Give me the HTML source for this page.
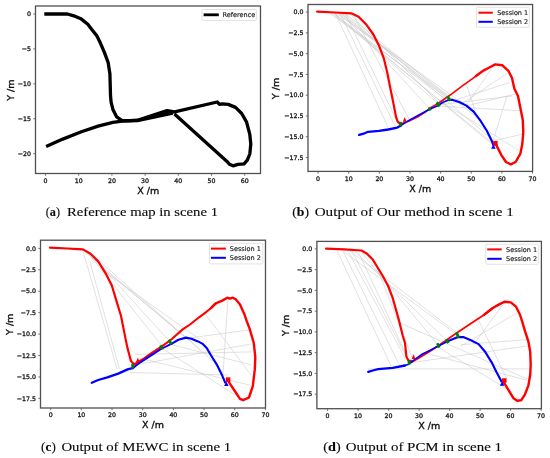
<!DOCTYPE html>
<html><head><meta charset="utf-8"><style>
html,body{margin:0;padding:0;background:#fff;}
svg{display:block;}
.tk{font-family:"DejaVu Sans",sans-serif;font-size:6.25px;fill:#1a1a1a;stroke:#1a1a1a;stroke-width:0.32px;}
.lb{font-family:"DejaVu Sans",sans-serif;font-size:9.5px;fill:#111;stroke:#111;stroke-width:0.35px;}
.lg{font-family:"DejaVu Sans",sans-serif;font-size:6.5px;fill:#1a1a1a;stroke:#1a1a1a;stroke-width:0.15px;}
.cp{font-family:"Liberation Serif",serif;font-size:13.5px;fill:#0a0a0a;stroke:#0a0a0a;stroke-width:0.12px;}
</style></head><body>
<svg width="550" height="458" viewBox="0 0 550 458">
<line x1="45.5" y1="173.5" x2="45.5" y2="175.7" stroke="#505050" stroke-width="0.8"/>
<text x="45.5" y="182.9" text-anchor="middle" class="tk">0</text>
<line x1="78.7" y1="173.5" x2="78.7" y2="175.7" stroke="#505050" stroke-width="0.8"/>
<text x="78.7" y="182.9" text-anchor="middle" class="tk">10</text>
<line x1="111.9" y1="173.5" x2="111.9" y2="175.7" stroke="#505050" stroke-width="0.8"/>
<text x="111.9" y="182.9" text-anchor="middle" class="tk">20</text>
<line x1="145.1" y1="173.5" x2="145.1" y2="175.7" stroke="#505050" stroke-width="0.8"/>
<text x="145.1" y="182.9" text-anchor="middle" class="tk">30</text>
<line x1="178.3" y1="173.5" x2="178.3" y2="175.7" stroke="#505050" stroke-width="0.8"/>
<text x="178.3" y="182.9" text-anchor="middle" class="tk">40</text>
<line x1="211.5" y1="173.5" x2="211.5" y2="175.7" stroke="#505050" stroke-width="0.8"/>
<text x="211.5" y="182.9" text-anchor="middle" class="tk">50</text>
<line x1="244.7" y1="173.5" x2="244.7" y2="175.7" stroke="#505050" stroke-width="0.8"/>
<text x="244.7" y="182.9" text-anchor="middle" class="tk">60</text>
<line x1="33.3" y1="14" x2="35.5" y2="14" stroke="#505050" stroke-width="0.8"/>
<text x="30.9" y="16.2" text-anchor="end" class="tk">0</text>
<line x1="33.3" y1="48.93" x2="35.5" y2="48.93" stroke="#505050" stroke-width="0.8"/>
<text x="30.9" y="51.13" text-anchor="end" class="tk">−5</text>
<line x1="33.3" y1="83.85" x2="35.5" y2="83.85" stroke="#505050" stroke-width="0.8"/>
<text x="30.9" y="86.05" text-anchor="end" class="tk">−10</text>
<line x1="33.3" y1="118.78" x2="35.5" y2="118.78" stroke="#505050" stroke-width="0.8"/>
<text x="30.9" y="120.98" text-anchor="end" class="tk">−15</text>
<line x1="33.3" y1="153.7" x2="35.5" y2="153.7" stroke="#505050" stroke-width="0.8"/>
<text x="30.9" y="155.9" text-anchor="end" class="tk">−20</text>
<text x="148.2" y="193.5" text-anchor="middle" class="lb">X /m</text>
<text transform="translate(14.2,90.2) rotate(-90)" text-anchor="middle" class="lb">Y /m</text>
<polyline points="44.3,14 67.4,14 73.8,15.8 81.4,19.1 87.8,24.2 91.6,29.3 96.7,35.6 100.5,43.3 104.3,52.2 108.1,62.3 109.9,73.8 110.2,84.3 110.5,95.3 111.1,102.1 112.9,109.4 116.6,116.8 122.2,120.6 130,120.6 137.4,120.2 167.1,110.6 174.5,111.8 217.2,102 219.5,104.4 222,103.9 228.2,104.4 235.5,107.4 241.7,113.5 246.6,122.1 249.8,134.4 250.8,144.2 249.8,154 247.3,160.2 244.1,163.8 238,164.3 233.1,165.8 229.4,164.3 227,161.4 174.5,114.1" fill="none" stroke="#000" stroke-width="3.3" stroke-linejoin="round"/>
<polyline points="46.1,146.5 62.8,139.1 81.4,131.7 98.1,126.1 112.9,122.4 122.2,121.1 137.4,120.6 172.7,113.1" fill="none" stroke="#000" stroke-width="3.3" stroke-linejoin="round"/>
<polygon points="137.4,119.3 168,109.7 174.5,110.9 174.5,113.2 137.4,121.5" fill="#000"/>
<rect x="35.5" y="6" width="225" height="167.5" fill="none" stroke="#505050" stroke-width="1.3"/>
<rect x="202" y="9.5" width="54.4" height="10.9" rx="1.2" fill="#fff" stroke="#d6d6d6" stroke-width="0.7"/>
<line x1="203.6" y1="14.8" x2="218.8" y2="14.8" stroke="#000" stroke-width="2.8"/>
<text x="222.5" y="17.0" class="lg">Reference</text>
<line x1="318.1" y1="171.4" x2="318.1" y2="173.6" stroke="#505050" stroke-width="0.8"/>
<text x="318.1" y="180.8" text-anchor="middle" class="tk">0</text>
<line x1="348.73" y1="171.4" x2="348.73" y2="173.6" stroke="#505050" stroke-width="0.8"/>
<text x="348.73" y="180.8" text-anchor="middle" class="tk">10</text>
<line x1="379.36" y1="171.4" x2="379.36" y2="173.6" stroke="#505050" stroke-width="0.8"/>
<text x="379.36" y="180.8" text-anchor="middle" class="tk">20</text>
<line x1="409.99" y1="171.4" x2="409.99" y2="173.6" stroke="#505050" stroke-width="0.8"/>
<text x="409.99" y="180.8" text-anchor="middle" class="tk">30</text>
<line x1="440.62" y1="171.4" x2="440.62" y2="173.6" stroke="#505050" stroke-width="0.8"/>
<text x="440.62" y="180.8" text-anchor="middle" class="tk">40</text>
<line x1="471.25" y1="171.4" x2="471.25" y2="173.6" stroke="#505050" stroke-width="0.8"/>
<text x="471.25" y="180.8" text-anchor="middle" class="tk">50</text>
<line x1="501.88" y1="171.4" x2="501.88" y2="173.6" stroke="#505050" stroke-width="0.8"/>
<text x="501.88" y="180.8" text-anchor="middle" class="tk">60</text>
<line x1="532.51" y1="171.4" x2="532.51" y2="173.6" stroke="#505050" stroke-width="0.8"/>
<text x="532.51" y="180.8" text-anchor="middle" class="tk">70</text>
<line x1="305.8" y1="12.1" x2="308" y2="12.1" stroke="#505050" stroke-width="0.8"/>
<text x="303.4" y="14.3" text-anchor="end" class="tk">0.0</text>
<line x1="305.8" y1="32.88" x2="308" y2="32.88" stroke="#505050" stroke-width="0.8"/>
<text x="303.4" y="35.08" text-anchor="end" class="tk">−2.5</text>
<line x1="305.8" y1="53.65" x2="308" y2="53.65" stroke="#505050" stroke-width="0.8"/>
<text x="303.4" y="55.85" text-anchor="end" class="tk">−5.0</text>
<line x1="305.8" y1="74.42" x2="308" y2="74.42" stroke="#505050" stroke-width="0.8"/>
<text x="303.4" y="76.62" text-anchor="end" class="tk">−7.5</text>
<line x1="305.8" y1="95.2" x2="308" y2="95.2" stroke="#505050" stroke-width="0.8"/>
<text x="303.4" y="97.4" text-anchor="end" class="tk">−10.0</text>
<line x1="305.8" y1="115.97" x2="308" y2="115.97" stroke="#505050" stroke-width="0.8"/>
<text x="303.4" y="118.17" text-anchor="end" class="tk">−12.5</text>
<line x1="305.8" y1="136.75" x2="308" y2="136.75" stroke="#505050" stroke-width="0.8"/>
<text x="303.4" y="138.95" text-anchor="end" class="tk">−15.0</text>
<line x1="305.8" y1="157.53" x2="308" y2="157.53" stroke="#505050" stroke-width="0.8"/>
<text x="303.4" y="159.72" text-anchor="end" class="tk">−17.5</text>
<text x="420.3" y="191.5" text-anchor="middle" class="lb">X /m</text>
<text transform="translate(279.1,88.5) rotate(-90)" text-anchor="middle" class="lb">Y /m</text>
<line x1="335" y1="12.4" x2="388" y2="127" stroke="#c8c8c8" stroke-width="0.55"/>
<line x1="345.4" y1="13.8" x2="398.5" y2="124.5" stroke="#c8c8c8" stroke-width="0.55"/>
<line x1="340" y1="13" x2="395" y2="126" stroke="#c8c8c8" stroke-width="0.55"/>
<line x1="353" y1="14" x2="409" y2="119" stroke="#c8c8c8" stroke-width="0.55"/>
<line x1="342" y1="13.5" x2="430" y2="109" stroke="#c8c8c8" stroke-width="0.55"/>
<line x1="334.5" y1="13.8" x2="438.6" y2="104" stroke="#c8c8c8" stroke-width="0.55"/>
<line x1="350" y1="14" x2="440" y2="104" stroke="#c8c8c8" stroke-width="0.55"/>
<line x1="330" y1="13.5" x2="449" y2="99" stroke="#c8c8c8" stroke-width="0.55"/>
<line x1="334" y1="13.5" x2="447" y2="100.5" stroke="#c8c8c8" stroke-width="0.55"/>
<line x1="338" y1="13.5" x2="451" y2="99.5" stroke="#c8c8c8" stroke-width="0.55"/>
<line x1="342" y1="13.8" x2="450" y2="101" stroke="#c8c8c8" stroke-width="0.55"/>
<line x1="346" y1="14" x2="452" y2="100" stroke="#c8c8c8" stroke-width="0.55"/>
<line x1="336" y1="13" x2="475" y2="112" stroke="#c8c8c8" stroke-width="0.55"/>
<line x1="340" y1="13.5" x2="478" y2="118" stroke="#c8c8c8" stroke-width="0.55"/>
<line x1="331" y1="12.5" x2="492.5" y2="143" stroke="#c8c8c8" stroke-width="0.55"/>
<line x1="334" y1="13" x2="493" y2="145" stroke="#c8c8c8" stroke-width="0.55"/>
<line x1="344" y1="13.5" x2="488" y2="136" stroke="#c8c8c8" stroke-width="0.55"/>
<line x1="491.8" y1="68.2" x2="466" y2="105.5" stroke="#c8c8c8" stroke-width="0.55"/>
<line x1="506.8" y1="73.6" x2="462" y2="103.6" stroke="#c8c8c8" stroke-width="0.55"/>
<line x1="509.6" y1="82.5" x2="455" y2="100.2" stroke="#c8c8c8" stroke-width="0.55"/>
<line x1="515" y1="94.1" x2="467" y2="105.8" stroke="#c8c8c8" stroke-width="0.55"/>
<line x1="466" y1="83" x2="477.5" y2="118" stroke="#c8c8c8" stroke-width="0.55"/>
<line x1="437" y1="106" x2="520.4" y2="110.7" stroke="#c8c8c8" stroke-width="0.55"/>
<line x1="438" y1="105" x2="512" y2="96" stroke="#c8c8c8" stroke-width="0.55"/>
<line x1="507" y1="96" x2="492.9" y2="141.2" stroke="#c8c8c8" stroke-width="0.55"/>
<line x1="492.9" y1="141.2" x2="521.1" y2="134.4" stroke="#c8c8c8" stroke-width="0.55"/>
<line x1="440" y1="101" x2="518.9" y2="150.4" stroke="#c8c8c8" stroke-width="0.55"/>
<polyline points="317.1,11.6 335.3,12.5 351.3,13.3 358.6,16.8 366,24.2 373.4,34.5 379.3,46.3 383.7,58.1 387.3,72.8 390.2,87.6 393.2,102.3 396.1,117.1 397.6,121.5 399.6,123.4 401,123.8" fill="none" stroke="#ff0000" stroke-width="2.2" stroke-linejoin="round" stroke-linecap="round"/>
<polyline points="401,123.8 408,121.6 418.9,116.2 425,112.3 430,108 436.4,104.4 440.9,101.5 451.8,93.8 462.7,85.6 473.6,77.8 483.3,70.6" fill="none" stroke="#ff0000" stroke-width="1.6" stroke-linejoin="round" stroke-linecap="round"/>
<polyline points="476,76 483.3,70.6 488,68.2 495.2,64.4 502.4,65.3 508.4,70.8 512,78 514.4,88.8 518,96 520.4,108 522.8,120 523.3,132 522.3,144 520.4,153.6 515.6,162 510.8,164.4 506,162 501.2,154.8 497.6,147.6 495.2,142.8" fill="none" stroke="#ff0000" stroke-width="2.4" stroke-linejoin="round" stroke-linecap="round"/>
<polyline points="359.1,134.9 364.5,133.3 368.2,131.8 379.1,130.9 388.2,129.5 397.3,127.6 400.9,125.5" fill="none" stroke="#0000ff" stroke-width="2.3" stroke-linejoin="round" stroke-linecap="round"/>
<polyline points="400.9,125.5 408,120.9 418.9,114.9 428.7,109.8 437.5,105.8 443.1,102.2 448.5,100" fill="none" stroke="#0000ff" stroke-width="1.7" stroke-linejoin="round" stroke-linecap="round"/>
<polyline points="448.5,100 452,99.7 459.2,102 466.4,105.6 473.6,111.6 480.8,121.2 486.8,130.8 491.6,140.4 493.6,145.6" fill="none" stroke="#0000ff" stroke-width="2.15" stroke-linejoin="round" stroke-linecap="round"/>
<line x1="400.5" y1="121.8" x2="400.5" y2="125.8" stroke="#008000" stroke-width="2.7"/>
<line x1="429.2" y1="107.3" x2="430.2" y2="110.6" stroke="#008000" stroke-width="2.7"/>
<line x1="436.7" y1="102.4" x2="439.6" y2="106.4" stroke="#008000" stroke-width="2.7"/>
<line x1="447.6" y1="96" x2="450.1" y2="100.9" stroke="#008000" stroke-width="2.7"/>
<polygon points="402.8,121.7 406.6,121.7 404.7,116.9" fill="#ff0000"/>
<rect x="493.15" y="141.05" width="4.5" height="4.5" fill="#ff0000"/>
<polygon points="491.1,148.7 495.7,148.7 493.4,144.5" fill="#0000ff"/>
<rect x="308" y="4.5" width="224.6" height="166.9" fill="none" stroke="#505050" stroke-width="1.3"/>
<rect x="476.5" y="7.3" width="52.8" height="19.9" rx="1.2" fill="#fff" stroke="#d6d6d6" stroke-width="0.7"/>
<line x1="478.4" y1="12.7" x2="492.8" y2="12.7" stroke="#ff0000" stroke-width="2"/>
<line x1="478.4" y1="21.8" x2="492.8" y2="21.8" stroke="#0000ff" stroke-width="2"/>
<text x="497.2" y="14.9" class="lg">Session 1</text>
<text x="497.2" y="24" class="lg">Session 2</text>
<line x1="50.7" y1="408" x2="50.7" y2="410.2" stroke="#505050" stroke-width="0.8"/>
<text x="50.7" y="417.4" text-anchor="middle" class="tk">0</text>
<line x1="81.37" y1="408" x2="81.37" y2="410.2" stroke="#505050" stroke-width="0.8"/>
<text x="81.37" y="417.4" text-anchor="middle" class="tk">10</text>
<line x1="112.04" y1="408" x2="112.04" y2="410.2" stroke="#505050" stroke-width="0.8"/>
<text x="112.04" y="417.4" text-anchor="middle" class="tk">20</text>
<line x1="142.71" y1="408" x2="142.71" y2="410.2" stroke="#505050" stroke-width="0.8"/>
<text x="142.71" y="417.4" text-anchor="middle" class="tk">30</text>
<line x1="173.38" y1="408" x2="173.38" y2="410.2" stroke="#505050" stroke-width="0.8"/>
<text x="173.38" y="417.4" text-anchor="middle" class="tk">40</text>
<line x1="204.05" y1="408" x2="204.05" y2="410.2" stroke="#505050" stroke-width="0.8"/>
<text x="204.05" y="417.4" text-anchor="middle" class="tk">50</text>
<line x1="234.72" y1="408" x2="234.72" y2="410.2" stroke="#505050" stroke-width="0.8"/>
<text x="234.72" y="417.4" text-anchor="middle" class="tk">60</text>
<line x1="265.39" y1="408" x2="265.39" y2="410.2" stroke="#505050" stroke-width="0.8"/>
<text x="265.39" y="417.4" text-anchor="middle" class="tk">70</text>
<line x1="38.3" y1="248.4" x2="40.5" y2="248.4" stroke="#505050" stroke-width="0.8"/>
<text x="35.9" y="250.6" text-anchor="end" class="tk">0.0</text>
<line x1="38.3" y1="269.82" x2="40.5" y2="269.82" stroke="#505050" stroke-width="0.8"/>
<text x="35.9" y="272.02" text-anchor="end" class="tk">−2.5</text>
<line x1="38.3" y1="291.25" x2="40.5" y2="291.25" stroke="#505050" stroke-width="0.8"/>
<text x="35.9" y="293.45" text-anchor="end" class="tk">−5.0</text>
<line x1="38.3" y1="312.68" x2="40.5" y2="312.68" stroke="#505050" stroke-width="0.8"/>
<text x="35.9" y="314.88" text-anchor="end" class="tk">−7.5</text>
<line x1="38.3" y1="334.1" x2="40.5" y2="334.1" stroke="#505050" stroke-width="0.8"/>
<text x="35.9" y="336.3" text-anchor="end" class="tk">−10.0</text>
<line x1="38.3" y1="355.52" x2="40.5" y2="355.52" stroke="#505050" stroke-width="0.8"/>
<text x="35.9" y="357.72" text-anchor="end" class="tk">−12.5</text>
<line x1="38.3" y1="376.95" x2="40.5" y2="376.95" stroke="#505050" stroke-width="0.8"/>
<text x="35.9" y="379.15" text-anchor="end" class="tk">−15.0</text>
<line x1="38.3" y1="398.38" x2="40.5" y2="398.38" stroke="#505050" stroke-width="0.8"/>
<text x="35.9" y="400.57" text-anchor="end" class="tk">−17.5</text>
<text x="153" y="428.1" text-anchor="middle" class="lb">X /m</text>
<text transform="translate(12.9,324.3) rotate(-90)" text-anchor="middle" class="lb">Y /m</text>
<line x1="83" y1="251" x2="117" y2="369" stroke="#c8c8c8" stroke-width="0.55"/>
<line x1="90" y1="262" x2="119.5" y2="369" stroke="#c8c8c8" stroke-width="0.55"/>
<line x1="88" y1="253" x2="161.4" y2="345.2" stroke="#c8c8c8" stroke-width="0.55"/>
<line x1="92" y1="256" x2="171.3" y2="343.2" stroke="#c8c8c8" stroke-width="0.55"/>
<line x1="97" y1="259" x2="216" y2="364" stroke="#c8c8c8" stroke-width="0.55"/>
<line x1="100" y1="266" x2="199.7" y2="349" stroke="#c8c8c8" stroke-width="0.55"/>
<line x1="105" y1="272" x2="199.7" y2="339.3" stroke="#c8c8c8" stroke-width="0.55"/>
<line x1="84" y1="251" x2="186" y2="338" stroke="#c8c8c8" stroke-width="0.55"/>
<line x1="130" y1="366" x2="251" y2="344" stroke="#c8c8c8" stroke-width="0.55"/>
<line x1="135" y1="354.4" x2="251" y2="351.9" stroke="#c8c8c8" stroke-width="0.55"/>
<line x1="130" y1="372.5" x2="228" y2="375" stroke="#c8c8c8" stroke-width="0.55"/>
<line x1="145.5" y1="359.6" x2="251" y2="385.4" stroke="#c8c8c8" stroke-width="0.55"/>
<line x1="168.7" y1="344" x2="251" y2="364.7" stroke="#c8c8c8" stroke-width="0.55"/>
<line x1="181.5" y1="339" x2="249" y2="330" stroke="#c8c8c8" stroke-width="0.55"/>
<line x1="228" y1="297.7" x2="222.8" y2="377.6" stroke="#c8c8c8" stroke-width="0.55"/>
<line x1="204.7" y1="313.2" x2="251" y2="375" stroke="#c8c8c8" stroke-width="0.55"/>
<line x1="160" y1="347" x2="240" y2="398" stroke="#c8c8c8" stroke-width="0.55"/>
<polyline points="50,247.6 67.3,248.5 78.2,249.1 82.9,249.4 90.5,253.7 98.2,261.4 105.8,273.6 111.9,285.8 116.5,301.1 121.1,316.3 124.1,331.6 127.2,346.9 129.6,356 130.8,360.6 133.3,363.7 134,364" fill="none" stroke="#ff0000" stroke-width="2.2" stroke-linejoin="round" stroke-linecap="round"/>
<polyline points="134,364.5 144.5,358.2 151.8,352.9 159.1,348.2 166.4,343.1 171.8,339 182.7,329.4 190,324.5 199.1,317.3 206.4,311.8 210.9,308.2 215.5,303.6" fill="none" stroke="#ff0000" stroke-width="2.1" stroke-linejoin="round" stroke-linecap="round"/>
<polyline points="210.9,308.2 215.5,303.6 217.3,302.7 221.8,300.9 227.3,297.7 230,298.6 232.7,297.7 235.5,299.1 240,304.5 244.4,314.2 246.8,321.4 249.6,328.6 253.8,343 255.3,357.4 254.8,369.4 252.8,386.2 249,397.5 243.2,400.2 240,398.8 234.8,391 230,383.8 227.6,380.2" fill="none" stroke="#ff0000" stroke-width="2.4" stroke-linejoin="round" stroke-linecap="round"/>
<polyline points="91.8,382.7 98.2,380 107.3,377.3 118.2,373.6 128.2,369.1 132.7,368.2" fill="none" stroke="#0000ff" stroke-width="2.3" stroke-linejoin="round" stroke-linecap="round"/>
<polyline points="132.7,368.2 140,362.6 152.7,354.4 161,349 171.8,343.6" fill="none" stroke="#0000ff" stroke-width="1.9" stroke-linejoin="round" stroke-linecap="round"/>
<polyline points="171.8,343.6 178.4,339.8 186,337.6 191.4,338.7 198,341.4 202.3,343.6 206.7,348 210.8,355 216.8,364.6 221.6,374.2 225.2,382.6" fill="none" stroke="#0000ff" stroke-width="2.15" stroke-linejoin="round" stroke-linecap="round"/>
<line x1="132.5" y1="364.2" x2="132.9" y2="368.6" stroke="#008000" stroke-width="2.7"/>
<line x1="160.5" y1="345.3" x2="162.5" y2="349.5" stroke="#008000" stroke-width="2.7"/>
<line x1="169" y1="339.6" x2="171.4" y2="344.4" stroke="#008000" stroke-width="2.7"/>
<polygon points="135.9,362.2 139.7,362.2 137.8,357.4" fill="#ff0000"/>
<rect x="225.85" y="377.35" width="4.5" height="4.5" fill="#ff0000"/>
<polygon points="224.1,386 228.7,386 226.4,381.8" fill="#0000ff"/>
<rect x="40.5" y="240.2" width="225" height="167.8" fill="none" stroke="#505050" stroke-width="1.3"/>
<rect x="209.5" y="243.3" width="53.3" height="20.6" rx="1.2" fill="#fff" stroke="#d6d6d6" stroke-width="0.7"/>
<line x1="210.9" y1="248.6" x2="225.9" y2="248.6" stroke="#ff0000" stroke-width="2"/>
<line x1="210.9" y1="257.8" x2="225.9" y2="257.8" stroke="#0000ff" stroke-width="2"/>
<text x="229.8" y="250.8" class="lg">Session 1</text>
<text x="229.8" y="260" class="lg">Session 2</text>
<line x1="327.6" y1="408.7" x2="327.6" y2="410.9" stroke="#505050" stroke-width="0.8"/>
<text x="327.6" y="418.1" text-anchor="middle" class="tk">0</text>
<line x1="358.1" y1="408.7" x2="358.1" y2="410.9" stroke="#505050" stroke-width="0.8"/>
<text x="358.1" y="418.1" text-anchor="middle" class="tk">10</text>
<line x1="388.6" y1="408.7" x2="388.6" y2="410.9" stroke="#505050" stroke-width="0.8"/>
<text x="388.6" y="418.1" text-anchor="middle" class="tk">20</text>
<line x1="419.1" y1="408.7" x2="419.1" y2="410.9" stroke="#505050" stroke-width="0.8"/>
<text x="419.1" y="418.1" text-anchor="middle" class="tk">30</text>
<line x1="449.6" y1="408.7" x2="449.6" y2="410.9" stroke="#505050" stroke-width="0.8"/>
<text x="449.6" y="418.1" text-anchor="middle" class="tk">40</text>
<line x1="480.1" y1="408.7" x2="480.1" y2="410.9" stroke="#505050" stroke-width="0.8"/>
<text x="480.1" y="418.1" text-anchor="middle" class="tk">50</text>
<line x1="510.6" y1="408.7" x2="510.6" y2="410.9" stroke="#505050" stroke-width="0.8"/>
<text x="510.6" y="418.1" text-anchor="middle" class="tk">60</text>
<line x1="541.1" y1="408.7" x2="541.1" y2="410.9" stroke="#505050" stroke-width="0.8"/>
<text x="541.1" y="418.1" text-anchor="middle" class="tk">70</text>
<line x1="314.7" y1="248.9" x2="316.9" y2="248.9" stroke="#505050" stroke-width="0.8"/>
<text x="312.3" y="251.1" text-anchor="end" class="tk">0.0</text>
<line x1="314.7" y1="269.65" x2="316.9" y2="269.65" stroke="#505050" stroke-width="0.8"/>
<text x="312.3" y="271.85" text-anchor="end" class="tk">−2.5</text>
<line x1="314.7" y1="290.4" x2="316.9" y2="290.4" stroke="#505050" stroke-width="0.8"/>
<text x="312.3" y="292.6" text-anchor="end" class="tk">−5.0</text>
<line x1="314.7" y1="311.15" x2="316.9" y2="311.15" stroke="#505050" stroke-width="0.8"/>
<text x="312.3" y="313.35" text-anchor="end" class="tk">−7.5</text>
<line x1="314.7" y1="331.9" x2="316.9" y2="331.9" stroke="#505050" stroke-width="0.8"/>
<text x="312.3" y="334.1" text-anchor="end" class="tk">−10.0</text>
<line x1="314.7" y1="352.65" x2="316.9" y2="352.65" stroke="#505050" stroke-width="0.8"/>
<text x="312.3" y="354.85" text-anchor="end" class="tk">−12.5</text>
<line x1="314.7" y1="373.4" x2="316.9" y2="373.4" stroke="#505050" stroke-width="0.8"/>
<text x="312.3" y="375.6" text-anchor="end" class="tk">−15.0</text>
<line x1="314.7" y1="394.15" x2="316.9" y2="394.15" stroke="#505050" stroke-width="0.8"/>
<text x="312.3" y="396.35" text-anchor="end" class="tk">−17.5</text>
<text x="429.3" y="428.7" text-anchor="middle" class="lb">X /m</text>
<text transform="translate(289,325.4) rotate(-90)" text-anchor="middle" class="lb">Y /m</text>
<line x1="337.1" y1="250.7" x2="391.1" y2="366" stroke="#c8c8c8" stroke-width="0.55"/>
<line x1="342.8" y1="250.7" x2="399.6" y2="365.5" stroke="#c8c8c8" stroke-width="0.55"/>
<line x1="348.5" y1="252.1" x2="405.3" y2="358.6" stroke="#c8c8c8" stroke-width="0.55"/>
<line x1="358.4" y1="252.1" x2="406.7" y2="355.8" stroke="#c8c8c8" stroke-width="0.55"/>
<line x1="344.2" y1="252.1" x2="458.5" y2="335.8" stroke="#c8c8c8" stroke-width="0.55"/>
<line x1="350" y1="251" x2="461" y2="336" stroke="#c8c8c8" stroke-width="0.55"/>
<line x1="355" y1="251.5" x2="447" y2="341" stroke="#c8c8c8" stroke-width="0.55"/>
<line x1="362" y1="253" x2="439" y2="346" stroke="#c8c8c8" stroke-width="0.55"/>
<line x1="352" y1="251" x2="409" y2="362" stroke="#c8c8c8" stroke-width="0.55"/>
<line x1="376" y1="265" x2="412" y2="357" stroke="#c8c8c8" stroke-width="0.55"/>
<line x1="368" y1="368.9" x2="529.8" y2="368.9" stroke="#c8c8c8" stroke-width="0.55"/>
<line x1="504.3" y1="302.7" x2="476.3" y2="340.9" stroke="#c8c8c8" stroke-width="0.55"/>
<line x1="517" y1="312.9" x2="461" y2="346" stroke="#c8c8c8" stroke-width="0.55"/>
<line x1="527.2" y1="339.6" x2="461" y2="344.7" stroke="#c8c8c8" stroke-width="0.55"/>
<line x1="425.4" y1="353" x2="527.2" y2="380.3" stroke="#c8c8c8" stroke-width="0.55"/>
<line x1="400" y1="323" x2="527.2" y2="379" stroke="#c8c8c8" stroke-width="0.55"/>
<line x1="476.3" y1="315.4" x2="506.9" y2="379" stroke="#c8c8c8" stroke-width="0.55"/>
<line x1="409" y1="363" x2="527" y2="346" stroke="#c8c8c8" stroke-width="0.55"/>
<line x1="436" y1="346" x2="512" y2="392" stroke="#c8c8c8" stroke-width="0.55"/>
<polyline points="326.1,248.6 344.3,249.4 361.5,250.5 367,253.7 372.5,259.2 377,266.5 382.5,275.5 387.9,285.5 392.5,297.4 396.1,310.1 399.1,320.9 402.7,335.5 405,343 406.4,356.4 407.6,359.1 409,361 411,360.8" fill="none" stroke="#ff0000" stroke-width="2.2" stroke-linejoin="round" stroke-linecap="round"/>
<polyline points="411,362.5 418.9,358 426.2,353.6 432,350 438.5,345.4 444.4,341.5 455.5,333.8 470.9,323.5 483.8,315 492.8,308" fill="none" stroke="#ff0000" stroke-width="1.7" stroke-linejoin="round" stroke-linecap="round"/>
<polyline points="483.8,315 492.8,308 499.2,304.4 504.4,301.7 510.8,302.4 516,306.7 519.9,314.5 522.4,322.2 525,331.2 528.4,341.5 530.2,351.8 530.7,364.7 530.2,375 528.4,385.3 525,394.3 521.1,400.3 517.3,400.8 513.4,398.2 509.6,391.8 505.7,385.3 503.1,381.4" fill="none" stroke="#ff0000" stroke-width="2.4" stroke-linejoin="round" stroke-linecap="round"/>
<polyline points="368.2,371.8 374.5,370 378.2,369.1 392.7,367.8 405,365.5" fill="none" stroke="#0000ff" stroke-width="2.3" stroke-linejoin="round" stroke-linecap="round"/>
<polyline points="405,365.5 408,364.5 415.3,359.1 422.5,354 429.8,350.4 437.1,346.7 444.4,343.1 447,341.6" fill="none" stroke="#0000ff" stroke-width="1.7" stroke-linejoin="round" stroke-linecap="round"/>
<polyline points="447,341.4 458,337.1 463.2,337.1 470.9,340.2 478.6,344.1 485.1,351.8 491.5,362.1 496.7,372.4 501.5,381.4" fill="none" stroke="#0000ff" stroke-width="2.15" stroke-linejoin="round" stroke-linecap="round"/>
<line x1="408.7" y1="360" x2="409.3" y2="364.6" stroke="#008000" stroke-width="2.7"/>
<line x1="437.3" y1="343.2" x2="439.3" y2="347.6" stroke="#008000" stroke-width="2.7"/>
<line x1="446.3" y1="339.2" x2="448.3" y2="343.2" stroke="#008000" stroke-width="2.7"/>
<line x1="456.3" y1="332.4" x2="458.9" y2="337.8" stroke="#008000" stroke-width="2.7"/>
<polygon points="411.7,359 415.5,359 413.6,354.2" fill="#ff0000"/>
<rect x="502.05" y="378.25" width="4.5" height="4.5" fill="#ff0000"/>
<polygon points="499.8,385.7 504.4,385.7 502.1,381.5" fill="#0000ff"/>
<rect x="316.9" y="241.4" width="224.5" height="167.3" fill="none" stroke="#505050" stroke-width="1.3"/>
<rect x="485.7" y="244.3" width="52.7" height="20" rx="1.2" fill="#fff" stroke="#d6d6d6" stroke-width="0.7"/>
<line x1="487.2" y1="249.4" x2="501.7" y2="249.4" stroke="#ff0000" stroke-width="2"/>
<line x1="487.2" y1="258.8" x2="501.7" y2="258.8" stroke="#0000ff" stroke-width="2"/>
<text x="506.1" y="251.6" class="lg">Session 1</text>
<text x="506.1" y="261" class="lg">Session 2</text>
<text transform="translate(45.8,215.7) scale(0.9016,1)" class="cp">(<tspan font-weight="bold">a</tspan>)</text>
<text transform="translate(67,215.7) scale(1.0895,1)" class="cp">Reference map in scene 1</text>
<text transform="translate(292.2,215.7) scale(1.0172,1)" class="cp">(<tspan font-weight="bold">b</tspan>)</text>
<text transform="translate(314.7,215.7) scale(1.1209,1)" class="cp">Output of Our method in scene 1</text>
<text transform="translate(41.1,451.3) scale(0.9800,1)" class="cp">(<tspan font-weight="bold">c</tspan>)</text>
<text transform="translate(61.4,451.3) scale(1.0971,1)" class="cp">Output of MEWC in scene 1</text>
<text transform="translate(323.3,451.3) scale(1.0535,1)" class="cp">(<tspan font-weight="bold">d</tspan>)</text>
<text transform="translate(345.8,451.3) scale(1.1063,1)" class="cp">Output of PCM in scene 1</text>
</svg>
</body></html>
